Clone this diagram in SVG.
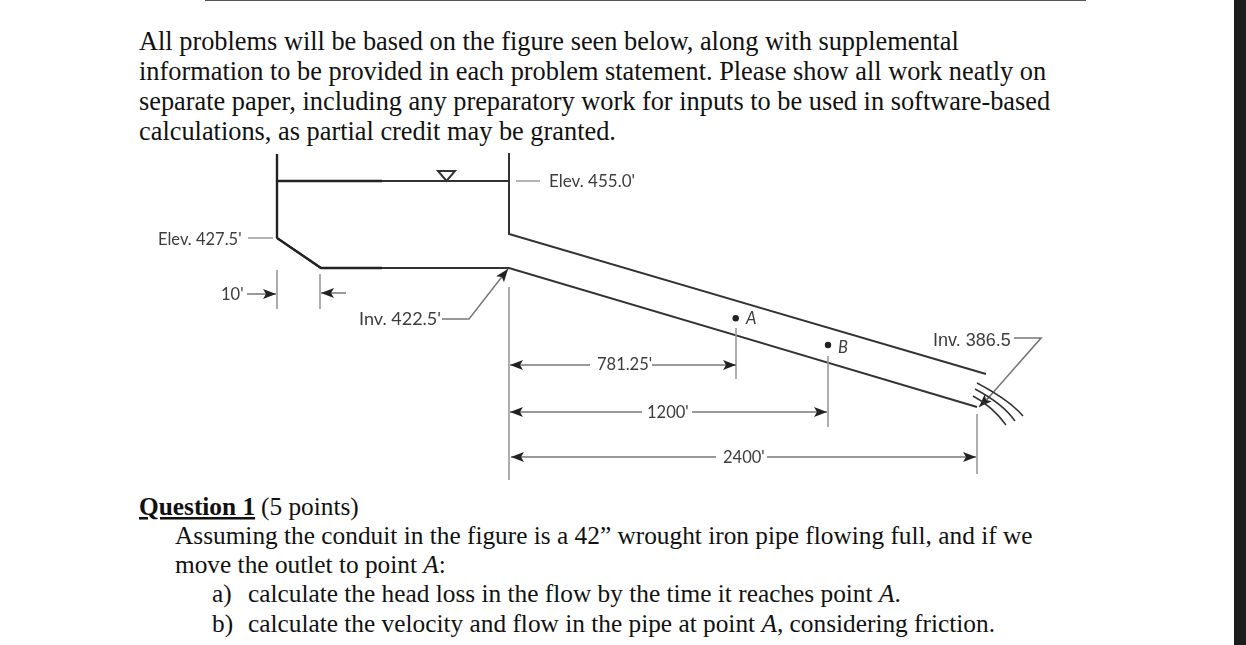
<svg xmlns="http://www.w3.org/2000/svg" width="1246" height="645" viewBox="0 0 1246 645">
<defs>
<marker id="ah" markerUnits="userSpaceOnUse" markerWidth="14" markerHeight="10" refX="13" refY="5" orient="auto-start-reverse"><path d="M0 0L13 5L0 10L3 5Z" fill="#222"/></marker>
<filter id="soft" x="-5%" y="-5%" width="110%" height="110%"><feGaussianBlur stdDeviation="0.45"/></filter>
</defs>
<style>
.t{font-family:"Liberation Serif",serif;font-size:26.35px;fill:#111}
.q{font-family:"Liberation Serif",serif;font-size:25.33px;fill:#111}
.l{font-family:"Lato","Liberation Sans",Arial,sans-serif;font-size:16.5px;fill:#3c3c3c}
.w{fill:none;stroke:#333;stroke-width:2}
.k{fill:none;stroke:#222;stroke-width:2.4}
.d{fill:none;stroke:#999;stroke-width:1.6}
.a{fill:none;stroke:#777;stroke-width:1.5;marker-end:url(#ah)}
.soft{filter:url(#soft)}
</style>
<rect width="1246" height="645" fill="#fff"/>
<rect x="1234" width="12" height="645" fill="#1c1c1c"/>
<path d="M205 0.500H1086" stroke="#555" stroke-width="1"/>
<g id="text-intro">
<text class="t" x="139" y="50">All problems will be based on the figure seen below, along with supplemental</text>
<text class="t" x="139" y="80">information to be provided in each problem statement. Please show all work neatly on</text>
<text class="t" x="139" y="110">separate paper, including any preparatory work for inputs to be used in software-based</text>
<text class="t" x="139" y="140">calculations, as partial credit may be granted.</text>
</g>
<g id="connectors" class="soft">
<path class="w" d="M277 154V238L321 268H509L977 407"/>
<path class="k" d="M277 238L321 268H382M277 154V238M277 181H382"/>
<path class="w" d="M382 181H509M509 153V234L986 374"/>
<path class="w" d="M438 171H455L446.500 181Z" stroke-width="1.600"/>
<path class="d" d="M516 181H540M248 238H273M277 270V309M320 274V309M509 287V480M736 328V379M828 356V427M977 414V474"/>
<path class="a" d="M247 294H276"/>
<path class="a" d="M346 293H321"/>
<path class="a" d="M442 319H469L508 269"/>
<path class="a" d="M652 365H736"/>
<path class="a" d="M590 365H510"/>
<path class="a" d="M642 412H510"/>
<path class="a" d="M692 412H827"/>
<path class="a" d="M716 457H511"/>
<path class="a" d="M767 457H976"/>
<path class="d" style="stroke:#777" d="M1014 338H1041L983 404"/>
<path class="a" d="M990 396L979 407"/>
<path fill="none" stroke="#333" stroke-width="1.500" d="M977 383C996 393 1012 403 1023 416M975 389C992 398 1006 408 1015 421M973 396C988 404 998 414 1006 425"/>
</g>
<g id="point-a" class="soft"><circle cx="735.700" cy="318.300" r="3.200" fill="#222"/><text class="l" x="746" y="324" font-style="italic">A</text></g>
<g id="point-b" class="soft"><circle cx="828" cy="345" r="3.200" fill="#222"/><text class="l" x="838" y="353" font-style="italic">B</text></g>
<g id="labels" class="soft">
<text class="l" x="549" y="187" style="font-size:17px">Elev. 455.0'</text>
<text class="l" x="158" y="245">Elev. 427.5'</text>
<text class="l" x="221" y="300">10'</text>
<text class="l" x="359" y="325" style="font-size:18px">Inv. 422.5'</text>
<text class="l" x="597" y="370">781.25'</text>
<text class="l" x="647" y="418">1200'</text>
<text class="l" x="723" y="463">2400'</text>
<text class="l" x="933" y="346" style="font-family:'Liberation Sans',sans-serif;font-size:18px">Inv. 386.5</text>
</g>
<g id="text-question">
<text class="q" x="139" y="515" font-weight="bold" text-decoration="underline">Question 1</text>
<text class="q" x="261" y="515">(5 points)</text>
<text class="q" x="175" y="544">Assuming the conduit in the figure is a 42” wrought iron pipe flowing full, and if we</text>
<text class="q" x="175" y="573">move the outlet to point <tspan font-style="italic">A</tspan>:</text>
<text class="q" x="212" y="602">a)</text>
<text class="q" x="248" y="602">calculate the head loss in the flow by the time it reaches point <tspan font-style="italic">A</tspan>.</text>
<text class="q" x="212" y="632">b)</text>
<text class="q" x="248" y="632">calculate the velocity and flow in the pipe at point <tspan font-style="italic">A</tspan>, considering friction.</text>
</g>
</svg>
